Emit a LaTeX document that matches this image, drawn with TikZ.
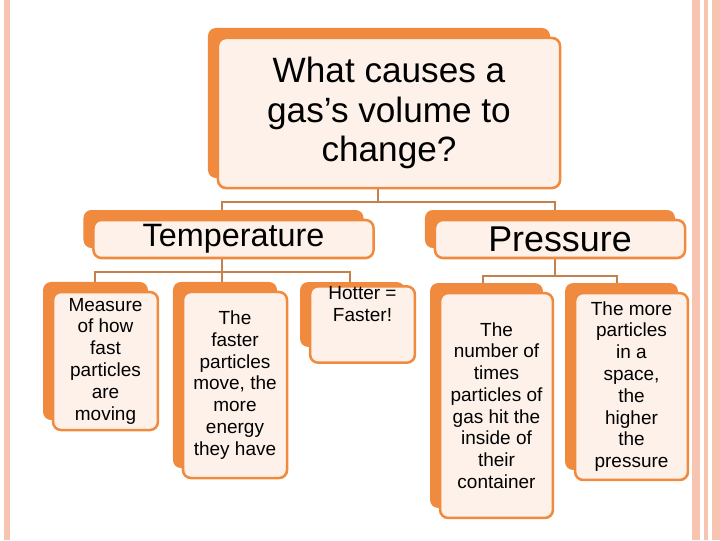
\documentclass[tikz,border=0pt]{standalone}
\usepackage{fontspec}
\setmainfont{Liberation Sans}
\definecolor{orng}{HTML}{F08A3E}
\definecolor{pale}{HTML}{FDF1EA}
\definecolor{brwn}{HTML}{C4814E}
\definecolor{stripe}{HTML}{F6C4B0}
\newcommand{\card}[7]{%
  \node[backbox, minimum width=#4, minimum height=#5] at ([xshift=-10*0.025cm,yshift=10*0.025cm]#2,#3) {};
  \node[frontbox, minimum width=#4, minimum height=#5, font=#6] (#1) at (#2,#3) {#7};
}
\begin{document}
\begin{tikzpicture}[
    x=0.025cm, y=-0.025cm,
    backbox/.style={fill=orng, rounded corners=0.2cm},
    frontbox/.style={draw=orng, line width=1.8pt, fill=pale, rounded corners=0.2cm, align=center, inner sep=0pt},
    link/.style={draw=brwn, line width=1.6pt}
]
\useasboundingbox (0,0) rectangle (720,540);
% side stripes
\fill[stripe] (4,0) rectangle (10,540);
\fill[stripe] (692,0) rectangle (700,540);
\fill[stripe] (704,0) rectangle (708,540);
\fill[stripe] (712,0) rectangle (720,540);

% connectors
\draw[link] (378,188) -- (378,202);
\draw[link] (222,220) -- (222,202) -- (555,202) -- (555,220);
\draw[link] (222,258) -- (222,272);
\draw[link] (95,292) -- (95,272) -- (350,272) -- (350,292);
\draw[link] (222,272) -- (222,292);
\draw[link] (555,258) -- (555,276);
\draw[link] (483,293) -- (483,276) -- (617,276) -- (617,293);

% boxes
\card{question}{389}{113}{8.55cm}{3.75cm}{\fontsize{25}{28}\selectfont}{What causes a\\gas's volume to\\change?}
\card{temp}{233.5}{239}{7.0cm}{0.95cm}{\fontsize{23}{24}\selectfont}{Temperature}
\card{press}{560}{239}{6.25cm}{0.95cm}{\fontsize{25.5}{26}\selectfont}{Pressure}
\card{measure}{105.5}{361}{2.62cm}{3.45cm}{\fontsize{13.5}{15.5}\selectfont}{Measure\\of how\\fast\\particles\\are\\moving}
\card{faster}{235}{385}{2.6cm}{4.65cm}{\fontsize{13.5}{15.5}\selectfont}{The\\faster\\particles\\move, the\\more\\energy\\they have}
\card{hotter}{362.5}{324.5}{2.62cm}{1.62cm}{\fontsize{13.5}{15.5}\selectfont}{Hotter =\\Faster!\\[14pt]}
\card{number}{496.5}{405.5}{2.82cm}{5.62cm}{\fontsize{13.5}{15.5}\selectfont}{The\\number of\\times\\particles of\\gas hit the\\inside of\\their\\container}
\card{more}{631.5}{386.5}{2.82cm}{4.67cm}{\fontsize{13.5}{15.5}\selectfont}{The more\\particles\\in a\\space,\\the\\higher\\the\\pressure}
\end{tikzpicture}
\end{document}
